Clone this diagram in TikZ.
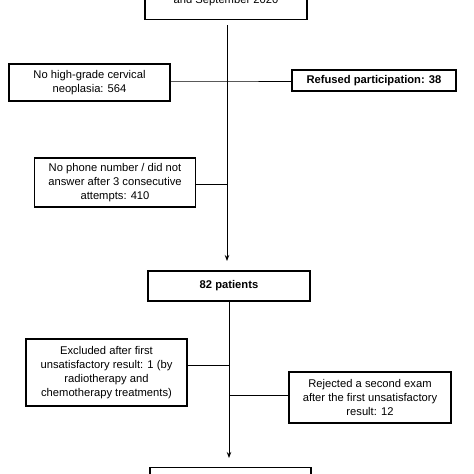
\documentclass[tikz,border=0pt]{standalone}
\usepackage{fontspec}
\setmainfont{Liberation Sans}
\usetikzlibrary{arrows.meta}
\tikzset{
  box/.style={draw=black, line width=1.1pt, fill=white, align=center, inner sep=2pt,
    font=\fontsize{11.2}{14}\selectfont},
  conn/.style={draw=black, line width=0.9pt},
  arr/.style={conn, -{Stealth[length=6pt,width=4.5pt]}}
}
\begin{document}
\begin{tikzpicture}[x=1pt,y=-1pt]
\useasboundingbox (0,0) rectangle (474,474);
\fill[white] (0,0) rectangle (474,474);
% top box (cropped)
\node[box, minimum width=162pt, minimum height=60pt, anchor=south] (top) at (226,20) {};
\node[font=\fontsize{11.2}{14}\selectfont, inner sep=0pt] (toptxt) at (226,1) {and September 2020};
\node[box, minimum width=161pt, minimum height=37pt] (l1) at (89.5,82.5) {No high-grade cervical\\neoplasia: 564};
\node[box, minimum width=164pt, minimum height=21pt, font=\fontsize{11.2}{14}\selectfont\bfseries] (r1) at (374,80.5) {Refused participation: 38};
\node[box, minimum width=161pt, minimum height=49pt] (l2) at (115,182.5) {No phone number / did not\\answer after 3 consecutive\\attempts: 410};
\node[box, minimum width=162pt, minimum height=30pt, font=\fontsize{11.2}{14}\selectfont\bfseries] (p) at (229,286) {82 patients};
\node[box, minimum width=161pt, minimum height=67pt] (l3) at (106.5,372.5) {Excluded after first\\unsatisfactory result: 1 (by\\radiotherapy and\\chemotherapy treatments)};
\node[box, minimum width=162pt, minimum height=51pt] (r3) at (370,397.5) {Rejected a second exam\\after the first unsatisfactory\\result: 12};
\node[box, minimum width=161pt, minimum height=40pt, anchor=north] (bot) at (230.5,467) {};
% trunk coordinates
\coordinate (t1) at (227,25);
\coordinate (t1e) at (227,271);
\coordinate (j1) at (227,81);
\coordinate (j2) at (227,184);
\coordinate (t2) at (229,301);
\coordinate (t2e) at (229,467);
\coordinate (j3) at (229,365);
\coordinate (j4) at (229,395);
% connectors
\draw[arr, shorten >=10pt] (t1) -- (t1e);
\draw[conn] (l1.east |- j1) -- (j1) -- (r1.west |- j1);
\draw[conn] (l2.east |- j2) -- (j2);
\draw[arr, shorten >=9pt] (t2) -- (t2e);
\draw[conn] (l3.east |- j3) -- (j3);
\draw[conn] (j4) -- (r3.west |- j4);
\end{tikzpicture}
\end{document}
